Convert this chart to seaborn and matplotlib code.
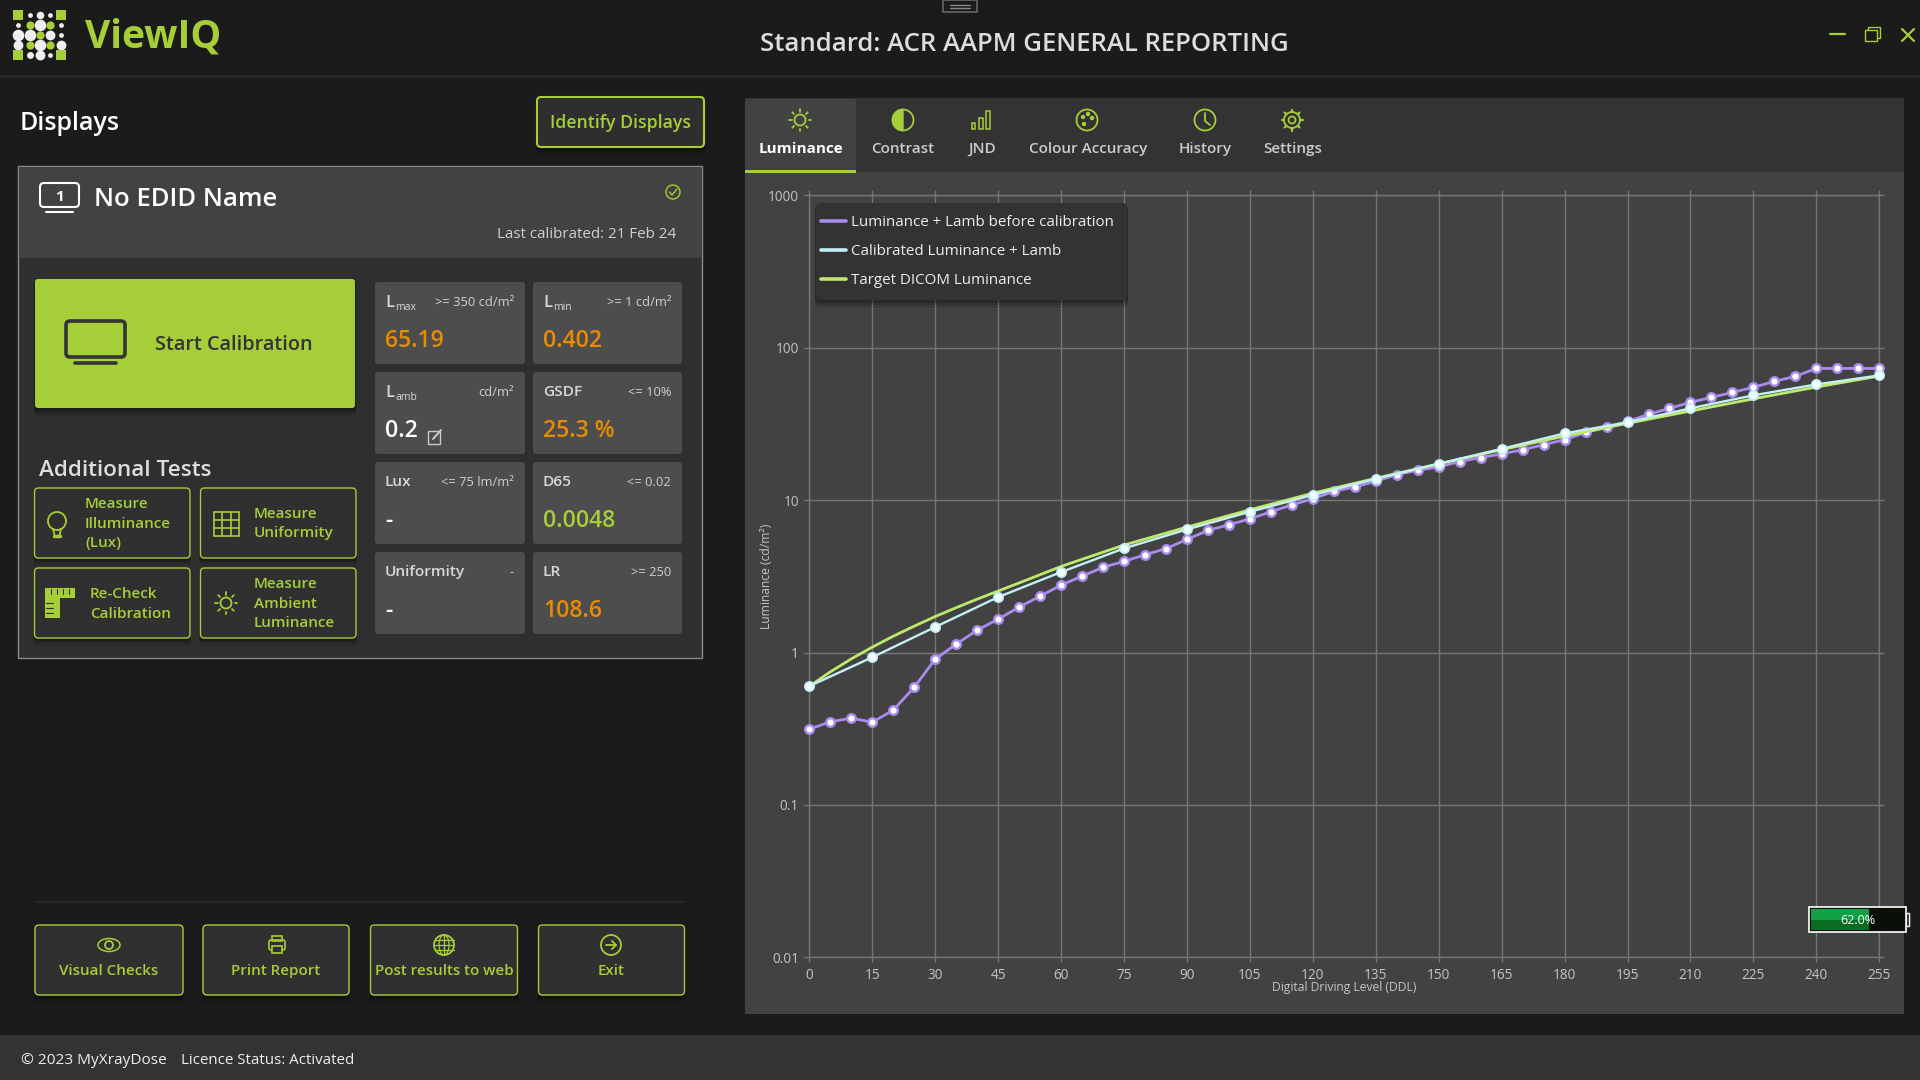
import numpy as np
import matplotlib
matplotlib.use('Agg')
import matplotlib.pyplot as plt
from matplotlib.patches import FancyBboxPatch, Rectangle, Circle, Wedge, Polygon, Ellipse
import seaborn as sns

# Chart data
before_ddl = [0, 5, 10, 15, 20, 25, 30, 35, 40, 45, 50, 55, 60, 65, 70, 75, 80, 85, 90, 95, 100, 105,
              110, 115, 120, 125, 130, 135, 140, 145, 150, 155, 160, 165, 170, 175, 180, 185, 190,
              195, 200, 205, 210, 215, 220, 225, 230, 235, 240, 245, 250, 255]
before_lum = [0.314, 0.351, 0.371, 0.349, 0.418, 0.591, 0.904, 1.135, 1.40, 1.655, 1.985, 2.34,
              2.77, 3.17, 3.62, 3.96, 4.38, 4.80, 5.52, 6.32, 6.89, 7.53, 8.38, 9.31, 10.2, 11.4,
              12.2, 13.3, 14.7, 15.7, 16.5, 17.9, 19.0, 20.1, 21.4, 23.1, 24.9, 27.8, 30.0, 32.8,
              36.5, 40.0, 43.8, 47.2, 50.9, 55.0, 60.1, 64.9, 73.1, 73.1, 73.1, 73.1]
calib_ddl = [0, 15, 30, 45, 60, 75, 90, 105, 120, 135, 150, 165, 180, 195, 210, 225, 240, 255]
calib_lum = [0.601, 0.93, 1.47, 2.31, 3.37, 4.82, 6.42, 8.38, 10.8, 13.8, 17.3, 21.7, 27.4, 32.4,
             40.0, 48.7, 57.4, 65.8]
target_ddl = [0, 5, 10, 15, 20, 25, 30, 35, 40, 45, 50, 55, 60, 75, 90, 105, 120, 135, 150, 165,
              180, 195, 210, 225, 240, 255]
target_lum = [0.60, 0.746, 0.908, 1.084, 1.279, 1.489, 1.722, 1.968, 2.239, 2.53, 2.86, 3.24, 3.67, 5.07,
              6.65, 8.64, 11.1, 13.9, 17.3, 21.4, 26.3, 31.9, 38.4, 46.2, 55.2, 65.2]
x_ticks = list(range(0, 256, 15))
y_ticks = [0.01, 0.1, 1, 10, 100, 1000]
y_labels = ['0.01', '0.1', '1', '10', '100', '1000']
series_names = ['Luminance + Lamb before calibration', 'Calibrated Luminance + Lamb',
                'Target DICOM Luminance']

# Metric cards
card_names = ['Lmax', 'Lmin', 'Lamb', 'GSDF', 'Lux', 'D65', 'Uniformity', 'LR']
card_limits = ['>= 350 cd/m²', '>= 1 cd/m²', 'cd/m²', '<= 10%', '<= 75 lm/m²', '<= 0.02', '-', '>= 250']
card_values = ['65.19', '0.402', '0.2', '25.3 %', '-', '0.0048', '-', '108.6']
card_colors = ['#e88c00', '#e88c00', 'white', '#e88c00', 'white', '#a6ce39', 'white', '#e88c00']
tab_names = ['Luminance', 'Contrast', 'JND', 'Colour Accuracy', 'History', 'Settings']
tab_centers = [801, 903, 982, 1088, 1205, 1293]

GREEN = '#a6ce39'
PURPLE = '#a98bed'
CYAN = '#c3eff5'
LIME = '#bdea6c'
GRID = '#767676'

sns.set_theme(style='dark')
plt.rcParams['font.family'] = ['Open Sans', 'DejaVu Sans']

fig = plt.figure(figsize=(19.2, 10.8), dpi=100, facecolor='#1b1b1b')
ui = fig.add_axes([0, 0, 1, 1], zorder=0)
ui.set_xlim(0, 1920)
ui.set_ylim(1080, 0)
ui.axis('off')
top = fig.add_axes([0, 0, 1, 1], zorder=3)
top.set_xlim(0, 1920)
top.set_ylim(1080, 0)
top.axis('off')


def box(x0, y0, x1, y1, fc, ec='none', lw=0, r=0, ax=ui, z=1):
    if r:
        p = FancyBboxPatch((x0 + r, y0 + r), x1 - x0 - 2 * r, y1 - y0 - 2 * r, fc=fc, ec=ec, lw=lw,
                           boxstyle=f'round,pad={r},rounding_size={r}', zorder=z)
    else:
        p = Rectangle((x0, y0), x1 - x0, y1 - y0, fc=fc, ec=ec, lw=lw, zorder=z)
    ax.add_patch(p)


def shadow(x0, y0, x1, y1, r=3, ax=ui):
    for k, a in [(8, .10), (5, .14), (3, .2)]:
        box(x0 - 1, y0 + 2, x1 + 1, y1 + k, 'black', r=r, z=1.5, ax=ax)
        ax.patches[-1].set_alpha(a)


def txt(x, y, s, size, color='white', ha='left', weight='normal', ax=ui, **kw):
    # text sits a bit high when centred, push it down in proportion to its size
    ax.text(x, y + size * 0.14, s, fontsize=size, color=color, ha=ha, va='center', fontweight=weight,
            zorder=5, **kw)


def line(xs, ys, color=GREEN, lw=1.3, ax=ui, z=5):
    ax.plot(xs, ys, color=color, lw=lw, zorder=z, solid_capstyle='round')


def ring(x, y, r, color=GREEN, lw=1.3, fc='none'):
    ui.add_patch(Circle((x, y), r, fc=fc, ec=color, lw=lw, zorder=5))


def sun(x, y, r=5.5, ray=11):
    ring(x, y, r)
    for a in np.arange(0, 360, 45):
        c, s = np.cos(np.radians(a)), np.sin(np.radians(a))
        line([x + c * (r + 3), x + c * ray], [y + s * (r + 3), y + s * ray])


def monitor(x0, y0, x1, y1, base_y, inset, color, lw):
    box(x0, y0, x1, y1, 'none', ec=color, lw=lw, r=4, z=5)
    line([x0 + inset, x1 - inset], [base_y, base_y], color=color, lw=lw)


def button(x0, y0, x1, y1):
    shadow(x0, y0, x1, y1)
    box(x0, y0, x1, y1, '#303030', ec=GREEN, lw=1.0, r=4, z=2)


# header
line([0, 1920], [76, 76], color='#262626', lw=2, z=1)
logo_x = [18, 30, 40, 50, 61]
logo_y = [15, 25, 35, 45, 55]
logo_s = [[50, 12, 30, 12, 50], [12, 35, 70, 35, 12], [70, 70, 35, 50, 12], [50, 35, 70, 35, 50], [50, 25, 50, 12, 50]]
logo_g = [[1, 0, 0, 0, 1], [0, 1, 0, 1, 0], [0, 0, 1, 0, 0], [0, 1, 0, 1, 0], [1, 0, 0, 0, 1]]
for i, yy in enumerate(logo_y):
    for j, xx in enumerate(logo_x):
        ui.scatter(xx, yy, s=logo_s[i][j], color=GREEN if logo_g[i][j] else '#eeeeee', zorder=5, lw=0,
                   marker='s' if logo_g[i][j] and logo_s[i][j] == 50 else 'o')
txt(85, 33, 'ViewIQ', 28, GREEN, weight='bold')
txt(1024, 42, 'Standard: ACR AAPM GENERAL REPORTING', 18.5, '#dddddd', ha='center', weight='semibold')
box(943, 0, 977, 12, 'none', ec='#666666', lw=1.2, z=3)
line([950, 970], [5, 5], color='#888888', lw=1)
line([950, 970], [8, 8], color='#888888', lw=1)
line([1830, 1845], [34, 34], lw=1.6)
box(1868, 27, 1880, 38, 'none', ec=GREEN, lw=1)
box(1865, 30, 1877, 41, '#1b1b1b', ec=GREEN, lw=1, z=2)
line([1902, 1914], [29, 41], lw=1.6)
line([1902, 1914], [41, 29], lw=1.6)

# left panel
txt(20, 121, 'Displays', 18, 'white', weight='semibold')
shadow(537, 97, 704, 147)
box(537, 97, 704, 147, '#2e2e2e', ec=GREEN, lw=1.5, r=4, z=2)
txt(620.5, 121, 'Identify Displays', 12.7, GREEN, ha='center', weight='semibold')

box(18, 166, 701.5, 658, '#2f2f2f', ec='#8a8a8a', lw=1)
box(19, 167, 701, 258, '#424242')
monitor(40, 183, 79, 207, 212, 6, 'white', 1.5)
txt(59.5, 195, '1', 11, 'white', ha='center', weight='bold')
txt(94, 197, 'No EDID Name', 18.5, 'white', weight='semibold')
ring(673, 192, 7, lw=1)
line([669.5, 672, 677], [192, 195, 189], lw=1)
txt(676, 233, 'Last calibrated: 21 Feb 24', 10.9, '#d0d0d0', ha='right')

shadow(35, 279, 355, 408)
box(35, 279, 355, 408, GREEN, r=3, z=2)
monitor(66, 321, 125, 357, 363, 9, '#333333', 2.6)
txt(155, 343, 'Start Calibration', 14.3, '#333333', weight='semibold')

# metric cards
card_x = [375, 533]
card_w = [150, 149]
card_y = [282, 372, 462, 552]
for n in range(8):
    cx, cy = card_x[n % 2], card_y[n // 2]
    w = card_w[n % 2]
    box(cx, cy, cx + w, cy + 82, '#4d4d4d', r=3, z=2)
    name = card_names[n]
    if name[0] == 'L' and len(name) == 4:
        txt(cx + 10, cy + 19, 'L', 12, '#d8d8d8', weight='semibold')
        txt(cx + 20, cy + 24, name[1:], 7.5, '#d8d8d8')
    else:
        txt(cx + 10, cy + 18, name, 11.1, '#d8d8d8', weight='semibold')
    txt(cx + w - 11, cy + 19, card_limits[n], 9.3, '#d0d0d0', ha='right')
    txt(cx + 10, cy + 57, card_values[n], 16.6, card_colors[n], weight='semibold')
box(428, 431, 440, 444, 'none', ec='#cccccc', lw=1, z=5)
line([433, 441], [439, 430], color='#cccccc', lw=1.4)

# additional tests
txt(39, 468, 'Additional Tests', 16.2, '#dddddd', weight='semibold')
tests = [(34.5, 488, 85, ['Measure', 'Illuminance', '(Lux)'], [502, 522, 541]),
         (200.5, 488, 254, ['Measure', 'Uniformity'], [512, 531]),
         (34.5, 568, 90, ['Re-Check', 'Calibration'], [592, 612]),
         (200.5, 568, 254, ['Measure', 'Ambient', 'Luminance'], [582, 602, 621])]
for bx, by, tx, lines, ys in tests:
    button(bx, by, bx + 155.5, by + 70)
    for s, yy in zip(lines, ys):
        txt(tx, yy, s, 11, GREEN, weight='semibold')
# bulb
ring(57, 521, 9)
line([53, 54.5], [529, 535], lw=1.3)
line([61, 59.5], [529, 535], lw=1.3)
line([54, 60], [536, 536], lw=2.5)
# grid icon
box(214, 512, 239, 536, 'none', ec=GREEN, lw=1.2, z=5)
for k in (1, 2):
    line([214 + k * 25 / 3] * 2, [512, 536], lw=1.2)
    line([214, 239], [512 + k * 8] * 2, lw=1.2)
# ruler
ui.add_patch(Polygon([(45, 588), (75, 588), (75, 598), (60, 598), (60, 618), (45, 618)], fc=GREEN, ec='none', zorder=5))
for xx in (51, 57, 63, 69):
    line([xx, xx], [589, 594], color='#303030', lw=.8, z=6)
for yy in (603, 608, 613):
    line([46, 53], [yy, yy], color='#303030', lw=.8, z=6)
sun(226, 603)

# bottom buttons
line([35, 685], [902, 902], color='#2a2a2a', lw=1.2, z=1)
bottoms = [(35, 183, 'Visual Checks'), (203, 349, 'Print Report'), (370.5, 517.5, 'Post results to web'), (538.5, 684.5, 'Exit')]
for x0, x1, s in bottoms:
    button(x0, 925, x1, 995)
    txt((x0 + x1) / 2, 969, s, 10.9, GREEN, ha='center', weight='semibold')
# eye
ui.add_patch(Ellipse((109, 945), 22, 13, fc='none', ec=GREEN, lw=1.1, zorder=5))
ring(109, 945, 4)
# printer
box(269, 940, 285, 950, 'none', ec=GREEN, lw=1.2, r=2, z=5)
box(272, 936, 282, 941, 'none', ec=GREEN, lw=1.2, z=5)
box(272, 946, 282, 953, '#303030', ec=GREEN, lw=1.2, z=5)
# globe
ring(444, 945, 10)
for v in (-5, 0, 5):
    line([434.5, 453.5], [945 + v, 945 + v], lw=.9)
ui.add_patch(Ellipse((444, 945), 10, 20, fc='none', ec=GREEN, lw=.9, zorder=5))
line([444, 444], [935, 955], lw=.9)
# exit
ring(611, 945, 10)
line([605.5, 616], [945, 945])
line([612, 616, 612], [941, 945, 949])

# footer
box(0, 1035, 1920, 1080, '#333333')
txt(21, 1059, '© 2023 MyXrayDose', 11.1, '#eeeeee')
txt(181, 1059, 'Licence Status: Activated', 10.9, '#eeeeee')

# right panel
box(745, 98, 1904, 1014, '#424242')
box(745, 98, 1904, 172, '#333333')
box(745, 99, 856, 171, '#424242', r=3, z=1.2)
box(745, 170, 856, 173, GREEN, z=2)
for name, cx in zip(tab_names, tab_centers):
    active = name == 'Luminance'
    txt(cx, 147, name, 11, 'white' if active else '#cccccc', ha='center', weight='bold' if active else 'semibold')
# tab icons
sun(800, 120)
ui.add_patch(Wedge((903, 120), 10.5, 90, 270, fc=GREEN, ec=GREEN, lw=1, zorder=5))
ring(903, 120, 10.5)
box(972, 123, 975, 129, 'none', ec=GREEN, lw=1.1, z=5)
box(979, 118, 983, 129, 'none', ec=GREEN, lw=1.1, z=5)
box(986, 111, 990, 129, 'none', ec=GREEN, lw=1.1, z=5)
ring(1087, 120, 10.5)
for dx, dy in [(-4, -3), (1, -6), (-3, 4), (5, -2)]:
    ring(1087 + dx, 120 + dy, 1.3, fc=GREEN)
ring(1205, 120, 10.5)
line([1205, 1205, 1210], [113, 121, 125])
ring(1292, 120, 3.5)
ring(1292, 120, 8)
for a in np.arange(0, 360, 45):
    c, s = np.cos(np.radians(a)), np.sin(np.radians(a))
    line([1292 + c * 8, 1292 + c * 10.5], [120 + s * 8, 120 + s * 10.5], lw=1.6)

# chart
L, R, T, B = 809.3, 1879.3, 195.3, 957.3
ax = fig.add_axes([L / 1920, 1 - B / 1080, (R - L) / 1920, (B - T) / 1080], zorder=1)
ax.set_facecolor('#424242')
sns.lineplot(x=before_ddl, y=before_lum, ax=ax, color=PURPLE, lw=2, marker='o', markersize=6.2,
             markerfacecolor='white', markeredgecolor=PURPLE, markeredgewidth=1.7,
             label=series_names[0], zorder=3, clip_on=False)
sns.lineplot(x=calib_ddl, y=calib_lum, ax=ax, color=CYAN, lw=1.7, marker='o', markersize=6.6,
             markerfacecolor='#f2fdfe', markeredgecolor=CYAN, markeredgewidth=1.3,
             label=series_names[1], zorder=5, clip_on=False)
sns.lineplot(x=target_ddl, y=target_lum, ax=ax, color=LIME, lw=2, label=series_names[2], zorder=4)
ax.set_yscale('log')
ax.set_xlim(0, 255)
ax.set_ylim(0.01, 1000)
ax.set_xticks(x_ticks)
ax.set_yticks(y_ticks, y_labels)
ax.minorticks_off()
ax.grid(True, color=GRID, lw=1.0)
ax.set_axisbelow(True)
ax.tick_params(axis='both', which='major', color=GRID, width=1.0, length=3.5, top=True, left=True,
               bottom=True, right=True, labelcolor='#c4c4c4', labelsize=9.8, pad=4)
for s in ax.spines.values():
    s.set_color(GRID)
    s.set_linewidth(1.0)
    s.set_visible(True)
ax.set_xlabel('Digital Driving Level (DDL)', fontsize=8.7, color='#c4c4c4', labelpad=-1.5)
ax.set_ylabel('Luminance (cd/m²)', fontsize=8.7, color='#c4c4c4', labelpad=-4)

# legend goes on the top layer so its box can be placed by hand
handles, labels = ax.get_legend_handles_labels()
ax.get_legend().remove()
shadow(816, 203, 1127, 300, r=5, ax=top)
box(816, 203, 1127, 300, '#333333', r=5, ax=top, z=2)
leg = top.legend(handles, labels, loc='upper left', bbox_to_anchor=(821 / 1920, 1 - 215.5 / 1080),
                 bbox_transform=fig.transFigure, borderaxespad=0, frameon=False, labelcolor='#eeeeee',
                 fontsize=10.9, handlelength=1.65, handletextpad=0.34, labelspacing=0.92, borderpad=0)
for h in leg.legend_handles:
    h.set_marker('')
    h.set_linewidth(2.6)

# battery widget
box(1906, 913, 1909, 926, '#0a0f08', ec='white', lw=1, ax=top)
box(1809, 907, 1906, 932, '#0a0f08', ec='white', lw=1.2, ax=top)
box(1811, 909, 1869, 920, '#12a044', ax=top, z=2)
box(1811, 920, 1869, 930, '#0a6b22', ax=top, z=2)
txt(1858, 919.5, '62.0%', 9, 'white', ha='center', ax=top)

fig.savefig('out.png', dpi=100, facecolor=fig.get_facecolor())
